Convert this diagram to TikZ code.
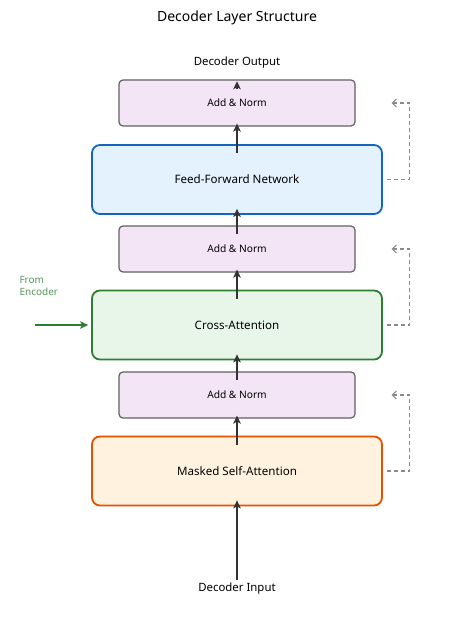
\documentclass[tikz,border=0pt]{standalone}
\usepackage{fontspec}
\setmainfont{Noto Sans}
\usetikzlibrary{arrows.meta}
\definecolor{normfill}{HTML}{F3E5F5}
\definecolor{normline}{HTML}{616161}
\definecolor{ffnfill}{HTML}{E3F2FD}
\definecolor{ffnline}{HTML}{1565C0}
\definecolor{crossfill}{HTML}{E8F5E9}
\definecolor{crossline}{HTML}{2E7D32}
\definecolor{maskfill}{HTML}{FFF3E0}
\definecolor{maskline}{HTML}{E65100}
\definecolor{flowc}{HTML}{333333}
\definecolor{skipc}{HTML}{8A8A8A}
\begin{document}
\begin{tikzpicture}[x=1pt,y=-1pt,
  norm/.style={draw=normline,fill=normfill,line width=1.2pt,rounded corners=4pt,
    minimum width=236pt,minimum height=46pt,font=\fontsize{10.2}{12}\selectfont},
  block/.style={line width=1.8pt,rounded corners=8pt,
    minimum width=290pt,minimum height=69pt,font=\fontsize{11.6}{13}\selectfont},
  ffn/.style={block,draw=ffnline,fill=ffnfill},
  cross/.style={block,draw=crossline,fill=crossfill},
  masked/.style={block,draw=maskline,fill=maskfill},
  flow/.style={draw=flowc,line width=1.7pt,-{Stealth[length=8pt,width=7.5pt,inset=2pt]}},
  encflow/.style={draw=crossline,line width=2.3pt,-{Stealth[length=8pt,width=7.5pt,inset=2pt]}},
  skip/.style={draw=skipc,line width=1.1pt,dash pattern=on 4pt off 3pt,
    -{Straight Barb[length=4pt,width=8pt]}},
  lbl/.style={font=\fontsize{11.4}{13}\selectfont}]
  \fill[white] (0,0) rectangle (474,628);
  \useasboundingbox (0,0) rectangle (474,628);
  % labels
  \node[font=\fontsize{14}{16}\selectfont] (title) at (237,18) {Decoder Layer Structure};
  \node[lbl] (out) at (237,63) {Decoder Output};
  \node[lbl] (in)  at (237,589) {Decoder Input};
  \node[anchor=west,align=left,text=crossline!80,font=\fontsize{10}{11.5}\selectfont]
    (enc) at (16,286) {From\\Encoder};
  % layer stack
  \node[norm]   (an3) at (237,103)   {Add \& Norm};
  \node[ffn]    (ffn) at (237,179.5) {Feed-Forward Network};
  \node[norm]   (an2) at (237,249)   {Add \& Norm};
  \node[cross]  (ca)  at (237,325)   {Cross-Attention};
  \node[norm]   (an1) at (237,395)   {Add \& Norm};
  \node[masked] (msa) at (237,471)   {Masked Self-Attention};
  % main flow
  \draw[flow] (in.north) -- ([yshift=6pt]msa.south);
  \draw[flow] ([yshift=-9pt]msa.north) -- ([yshift=3pt]an1.south);
  \draw[flow] ([yshift=-9pt]an1.north) -- ([yshift=6pt]ca.south);
  \draw[flow] ([yshift=-9pt]ca.north)  -- ([yshift=3pt]an2.south);
  \draw[flow] ([yshift=-9pt]an2.north) -- ([yshift=6pt]ffn.south);
  \draw[flow] ([yshift=-9pt]ffn.north) -- ([yshift=3pt]an3.south);
  \draw[flow] ([yshift=-10pt]an3.north) -- ([yshift=-9pt]out.south);
  % encoder input
  \coordinate (encin) at (35,325);
  \draw[encflow] (encin) -- ([xshift=-3pt]ca.west);
  % residual connections
  \draw[skip] ([xshift=4pt]msa.east) -- ++(23,0) |- ([xshift=36pt]an1.east);
  \draw[skip] ([xshift=4pt]ca.east)  -- ++(23,0) |- ([xshift=36pt]an2.east);
  \draw[skip] ([xshift=4pt]ffn.east) -- ++(23,0) |- ([xshift=36pt]an3.east);
\end{tikzpicture}
\end{document}
